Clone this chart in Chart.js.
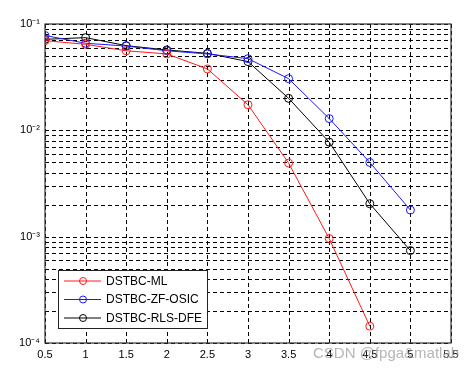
<!DOCTYPE html>
<html><head><meta charset="utf-8">
<script src="https://cdn.jsdelivr.net/npm/chart.js@4"></script>
<style>html,body{margin:0;padding:0;background:#fff}#w{width:474px;height:369px}</style>
</head><body><div id="w"><canvas id="c"></canvas></div>
<script>
const xValues = [0.5, 1, 1.5, 2, 2.5, 3, 3.5, 4, 4.5, 5];
const seriesNames = ['DSTBC-ML', 'DSTBC-ZF-OSIC', 'DSTBC-RLS-DFE'];
const mlBER    = [0.0697, 0.0644, 0.056, 0.0523, 0.0378, 0.0174, 0.00492, 0.00096, 0.000144];
const zfBER    = [0.078, 0.0659, 0.062, 0.056, 0.0523, 0.0472, 0.0306, 0.0129, 0.00499, 0.00178];
const rlsBER   = [0.0718, 0.0744, 0.0626, 0.057, 0.053, 0.0443, 0.020, 0.00774, 0.00204, 0.00074];
const xTickLabels = ['0.5','1','1.5','2','2.5','3','3.5','4','4.5','5','5.5'];
const yDecades = [1e-4, 1e-3, 1e-2, 1e-1];
const yTickLabels = ['10\u207B\u2074', '10\u207B\u00B3', '10\u207B\u00B2', '10\u207B\u00B9'];
const watermark = 'CSDN @fpga&matlab';

function pts(vals){ return vals.map((v,i)=>({x:xValues[i], y:v})); }
const colors = ['#ff1a1a', '#1a1aff', '#000000'];

const dashGrid = {
  id:'dashGrid',
  beforeDatasetsDraw(chart){
    const {ctx, chartArea:a, scales} = chart;
    ctx.save();
    ctx.strokeStyle='#000'; ctx.lineWidth=1; ctx.setLineDash([4,3]);
    scales.x.ticks.forEach(t=>{
      const px = Math.round(scales.x.getPixelForValue(t.value))+0.5;
      ctx.beginPath(); ctx.moveTo(px,a.top); ctx.lineTo(px,a.bottom); ctx.stroke();
    });
    scales.y.ticks.forEach(t=>{
      const py = Math.round(scales.y.getPixelForValue(t.value))+0.5;
      ctx.beginPath(); ctx.moveTo(a.left,py); ctx.lineTo(a.right,py); ctx.stroke();
    });
    ctx.restore();
  }
};

const frame = {
  id:'frame',
  afterDraw(chart){
    const {ctx, chartArea:a} = chart;
    ctx.save();
    ctx.strokeStyle = '#333'; ctx.lineWidth = 1.2;
    ctx.strokeRect(a.left, a.top, a.right-a.left, a.bottom-a.top);
    // legend
    const bx=58, by=270, bw=149, bh=58;
    ctx.fillStyle='#fff'; ctx.fillRect(bx,by,bw,bh);
    ctx.strokeStyle='#222'; ctx.lineWidth=1; ctx.strokeRect(bx+0.5,by+0.5,bw,bh);
    ctx.font='12px "Liberation Sans", Arial, sans-serif';
    ctx.textBaseline='middle';
    chart.data.datasets.forEach((ds,i)=>{
      const y = by + 11 + i*18.5;
      ctx.strokeStyle = ds.borderColor; ctx.lineWidth=1;
      ctx.beginPath(); ctx.moveTo(64,y); ctx.lineTo(101,y); ctx.stroke();
      ctx.beginPath(); ctx.arc(83,y,3.5,0,Math.PI*2); ctx.stroke();
      ctx.fillStyle='#000'; ctx.fillText(ds.label, 106, y+0.5);
    });
    // watermark
    ctx.font='15px "Liberation Sans", Arial, sans-serif';
    ctx.fillStyle='rgba(150,150,150,0.7)';
    ctx.textBaseline='middle'; ctx.textAlign='left';
    ctx.fillText(watermark, 313, 354);
    ctx.restore();
  }
};

const minorTicks = [];
yDecades.forEach((d,i)=>{ const m = i<yDecades.length-1 ? 9 : 1; for(let k=1;k<=m;k++) minorTicks.push(k*d); });

new Chart(document.getElementById('c'), {
  type:'line',
  data:{ datasets: [mlBER, zfBER, rlsBER].map((v,i)=>({
    label: seriesNames[i], data: pts(v), borderColor: colors[i], backgroundColor:'rgba(0,0,0,0)',
    borderWidth:1, pointRadius:4, pointBorderWidth:1, pointStyle:'circle', tension:0, fill:false
  }))},
  options:{
    responsive:true, maintainAspectRatio:false, animation:false,
    layout:{padding:{top:24, right:23, left:0, bottom:0}},
    plugins:{legend:{display:false}, tooltip:{enabled:false}},
    scales:{
      x:{ type:'linear', min:0.5, max:5.5,
        afterBuildTicks(s){ s.ticks = xTickLabels.map(t=>({value:parseFloat(t)})); },
        ticks:{ callback:(v)=>{ const i = xTickLabels.findIndex(t=>parseFloat(t)===v); return i>=0?xTickLabels[i]:''; },
          color:'#000', font:{size:11, family:'"Liberation Sans", Arial, sans-serif'}, padding:5, maxRotation:0, autoSkip:false },
        grid:{ display:false, drawTicks:false },
        border:{ display:false },
        afterFit(s){ s.height = 26; }
      },
      y:{ type:'logarithmic', min:1e-4, max:1e-1,
        afterBuildTicks(s){ s.ticks = minorTicks.map(v=>({value:v, major: yDecades.includes(v)})); },
        ticks:{ callback:(v)=>{ const i = yDecades.findIndex(d=>Math.abs(d-v)/d<1e-6); return i>=0?yTickLabels[i]:''; },
          color:'#000', font:{size:11, family:'"Liberation Sans", Arial, sans-serif'}, padding:5, autoSkip:false },
        grid:{ display:false, drawTicks:false },
        border:{ display:false },
        afterFit(s){ s.width = 45; }
      }
    }
  },
  plugins:[dashGrid, frame]
});
</script></body></html>
